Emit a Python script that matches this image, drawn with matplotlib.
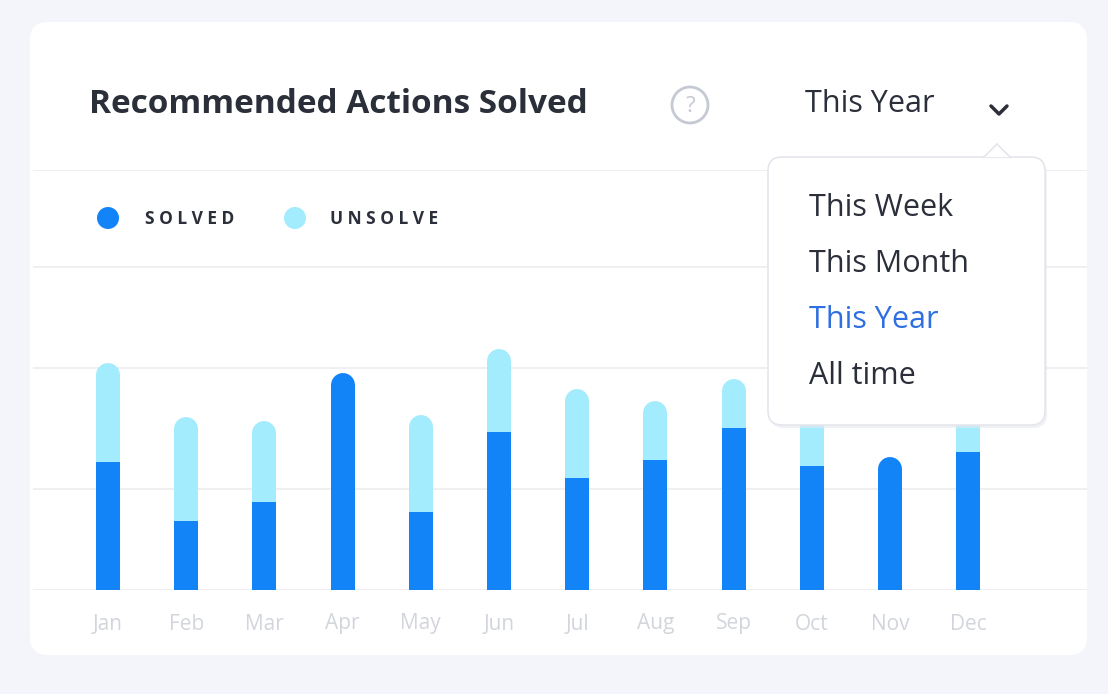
import matplotlib.pyplot as plt
from matplotlib.patches import FancyBboxPatch, Circle, Polygon

plt.rcParams['font.family'] = ['Open Sans', 'DejaVu Sans']

months = ['Jan', 'Feb', 'Mar', 'Apr', 'May', 'Jun', 'Jul', 'Aug', 'Sep', 'Oct', 'Nov', 'Dec']
solved = [128, 69, 88, 217, 78, 158, 112, 130, 162, 124, 133, 138]
unsolved = [99, 104, 81, 0, 97, 83, 89, 59, 49, 76, 0, 62]
grid_vals = [0, 101, 222, 323, 420]
periods = ['This Week', 'This Month', 'This Year', 'All time']

W, H = 1108, 694
fig = plt.figure(figsize=(W / 100, H / 100), dpi=100)
fig.patch.set_facecolor('#f4f5fa')

# background overlay in pixel coordinates
bg = fig.add_axes([0, 0, 1, 1])
bg.set_xlim(0, W)
bg.set_ylim(H, 0)
bg.axis('off')
bg.add_patch(FancyBboxPatch((30, 22), 1057, 633, boxstyle='round,pad=0,rounding_size=18',
                            fc='white', ec='none'))

# chart axes
x0, x1, ybase, ytop = 33, 1087, 590, 170
ax = fig.add_axes([x0 / W, 1 - ybase / H, (x1 - x0) / W, (ybase - ytop) / H])
ax.patch.set_alpha(0)
step = 78.2
ax.set_xlim(-(108 - x0) / step, (x1 - 108) / step)
ax.set_ylim(0, ybase - ytop)
for s in ax.spines.values():
    s.set_visible(False)
ax.set_yticks([])
ax.set_xticks([])
for g in grid_vals:
    ax.axhline(g, color='#ececf0', lw=1.2, zorder=0)

dark, light = '#1384f7', '#a3ecfd'
lw_pt = 24 * 72 / 100
r = 12
for i, (s, u) in enumerate(zip(solved, unsolved)):
    tot = s + u
    if u > 0:
        ax.plot([i, i], [r, tot - r], color=light, lw=lw_pt, solid_capstyle='round', zorder=2)
        ax.bar(i, s, width=24 / step, color=dark, zorder=3)
    else:
        ax.plot([i, i], [r, s - r], color=dark, lw=lw_pt, solid_capstyle='round', zorder=2)
        ax.bar(i, r, width=24 / step, color=dark, zorder=3)
    ax.text(i, -34, months[i], ha='center', va='center', fontsize=15, color='#d2d5dc')

# header / legend overlay on top
top = fig.add_axes([0, 0, 1, 1])
top.set_xlim(0, W)
top.set_ylim(H, 0)
top.axis('off')
top.patch.set_alpha(0)
top.text(89, 104, 'Recommended Actions Solved', fontsize=24, fontweight='bold',
         color='#2b2f3a', va='center')
top.add_patch(Circle((690, 105), 18, fc='none', ec='#c5c9d3', lw=2))
top.text(690, 106, '?', fontsize=16, color='#c5c9d3', ha='center', va='center')
top.text(805, 104, 'This Year', fontsize=22, color='#2b2f3a', va='center')
top.plot([991, 999, 1007], [106, 114, 106], color='#2b2f3a', lw=2.5, solid_capstyle='round')

top.add_patch(Circle((108, 218), 11, fc=dark, ec='none'))
top.add_patch(Circle((295, 218), 11, fc=light, ec='none'))
top.text(145, 219, 'S O L V E D', fontsize=12.5, fontweight='bold', color='#2b2f3a', va='center')
top.text(330, 219, 'U N S O L V E', fontsize=12.5, fontweight='bold', color='#2b2f3a', va='center')

# dropdown
top.add_patch(FancyBboxPatch((770, 160), 277, 268, boxstyle='round,pad=0,rounding_size=14',
                             fc='#e6e8ee', ec='none', alpha=0.6))
top.add_patch(FancyBboxPatch((768, 157), 277, 268, boxstyle='round,pad=0,rounding_size=14',
                             fc='white', ec='#e4e6ec', lw=1.2))
top.add_patch(Polygon([[983, 158], [997, 144], [1011, 158]], closed=True, fc='white',
                      ec='#e4e6ec', lw=1.2))
top.plot([984, 1010], [158.5, 158.5], color='white', lw=2)
for k, p in enumerate(periods):
    top.text(809, 208 + 56 * k, p, fontsize=22, va='center',
             color='#2f6fe0' if p == 'This Year' else '#2b2f3a')

fig.savefig('out.png', dpi=100, facecolor=fig.get_facecolor())
